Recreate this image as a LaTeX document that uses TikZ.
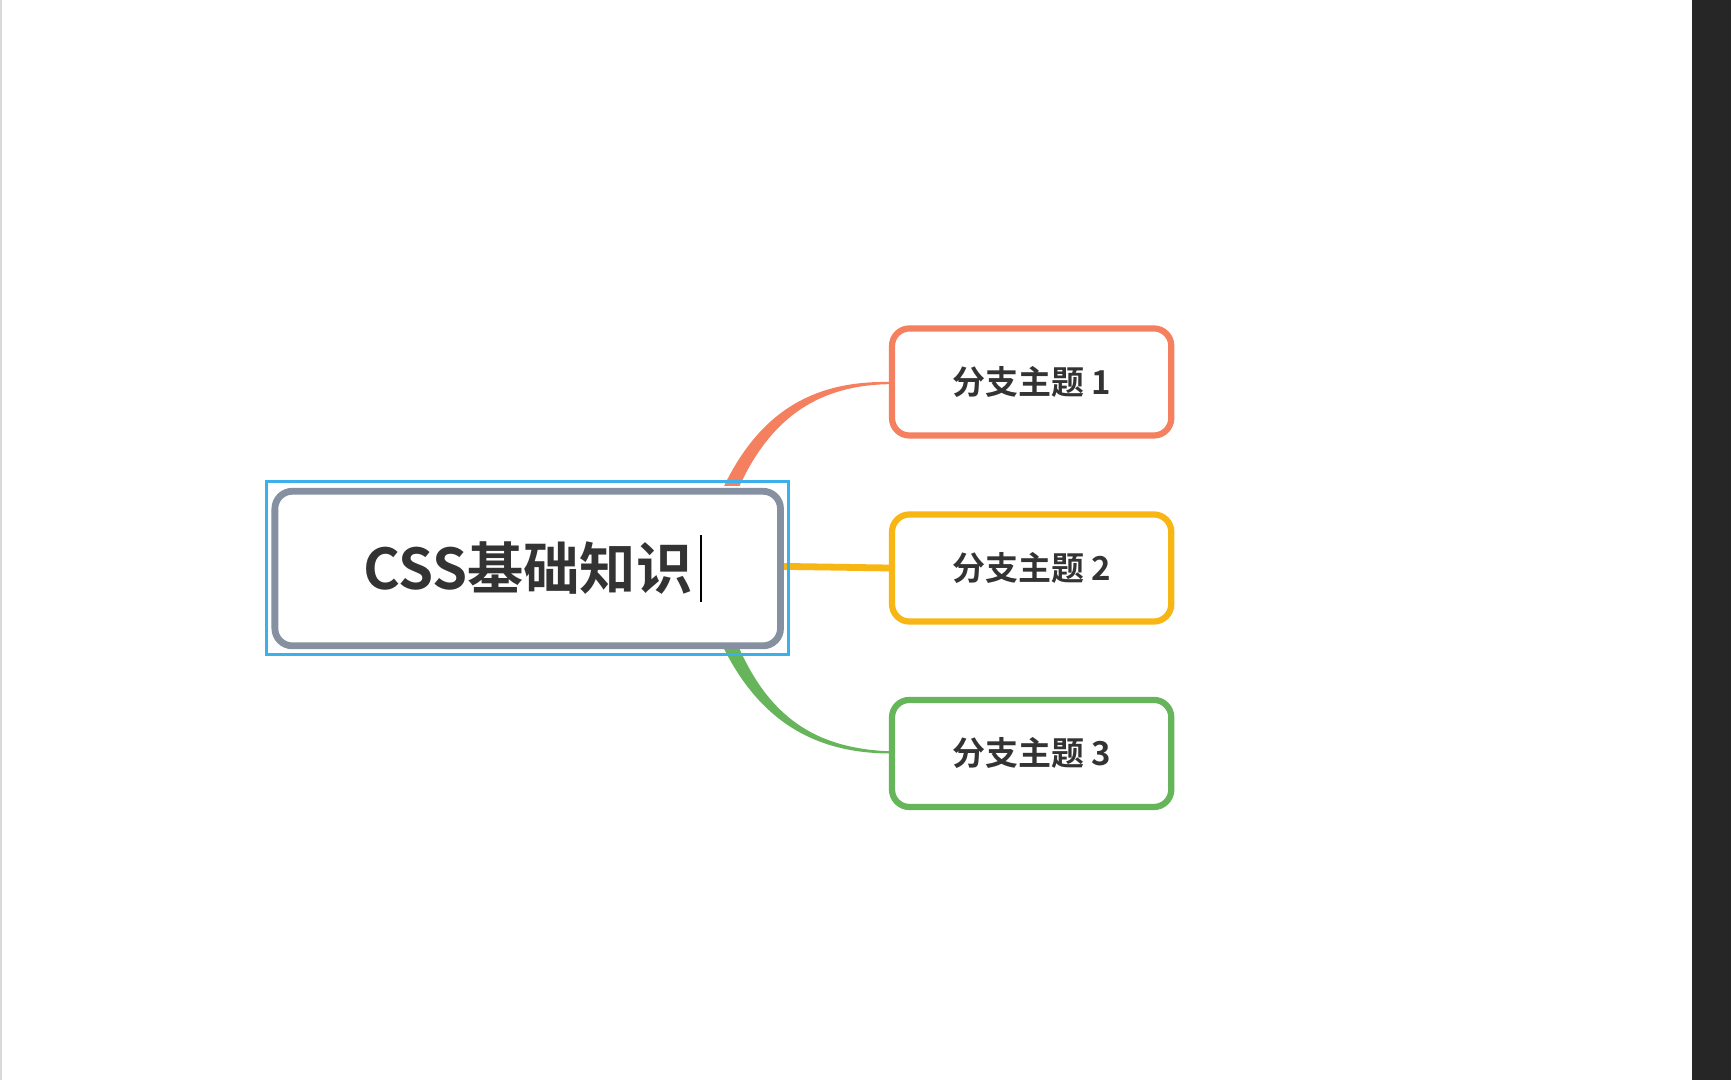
\documentclass[tikz,border=0pt]{standalone}
\usepackage{fontspec}
\newfontfamily\cjk{Noto Sans CJK SC}
\newfontfamily\cjkb{Noto Sans CJK SC Bold}
\definecolor{c1}{HTML}{F4805F}
\definecolor{c2}{HTML}{F7B614}
\definecolor{c3}{HTML}{67B55A}
\definecolor{selblue}{HTML}{3BB0EA}
\definecolor{rootgray}{HTML}{8590A0}
\definecolor{txt}{HTML}{333333}
\tikzset{
 branchbox/.style={draw, line width=3.2pt, rounded corners=9pt, minimum width=253*0.02cm, minimum height=97*0.02cm, text=txt, font=\cjkb\fontsize{17}{20}\selectfont},
}
\begin{document}
\begin{tikzpicture}[x=0.02cm,y=-0.02cm]
\useasboundingbox (0,0) rectangle (1568,978);
\fill[white] (0,0) rectangle (1568,978);
\fill[black!85] (1533,0) rectangle (1568,978);
\draw[black!15, line width=1pt] (1,0) -- (1,978);
% connectors
\coordinate (s1) at (662,440);
\coordinate (s3) at (662,588);
\node[branchbox, draw=c1] (b1) at (934.5,346) {分支主题 1};
\node[branchbox, draw=c2] (b2) at (934.5,514.5) {分支主题 2};
\node[branchbox, draw=c3] (b3) at (934.5,682.5) {分支主题 3};
\fill[c1] (656,440) .. controls (690,370) and (740,345) .. (b1.west) -- ([yshift=-0.04cm]b1.west) .. controls (745,349) and (700,375) .. (670,440) -- cycle;
\draw[c2, line width=3.5pt] (707,513) -- (b2.west);
\fill[c3] (656,588) .. controls (690,655) and (740,682) .. (b3.west) -- ([yshift=0.04cm]b3.west) .. controls (745,678) and (700,655) .. (670,588) -- cycle;
% root
\draw[selblue, line width=1.6pt] (241,436) rectangle (714,593);
\node[draw=rootgray, fill=white, line width=3.5pt, rounded corners=9pt, minimum width=458*0.02cm, minimum height=140*0.02cm, text=txt, font=\cjkb\fontsize{29}{34}\selectfont] (root) at (478,515) {CSS基础知识};
\draw[black, line width=0.8pt] (635,485) -- (635,545);
\end{tikzpicture}
\end{document}
